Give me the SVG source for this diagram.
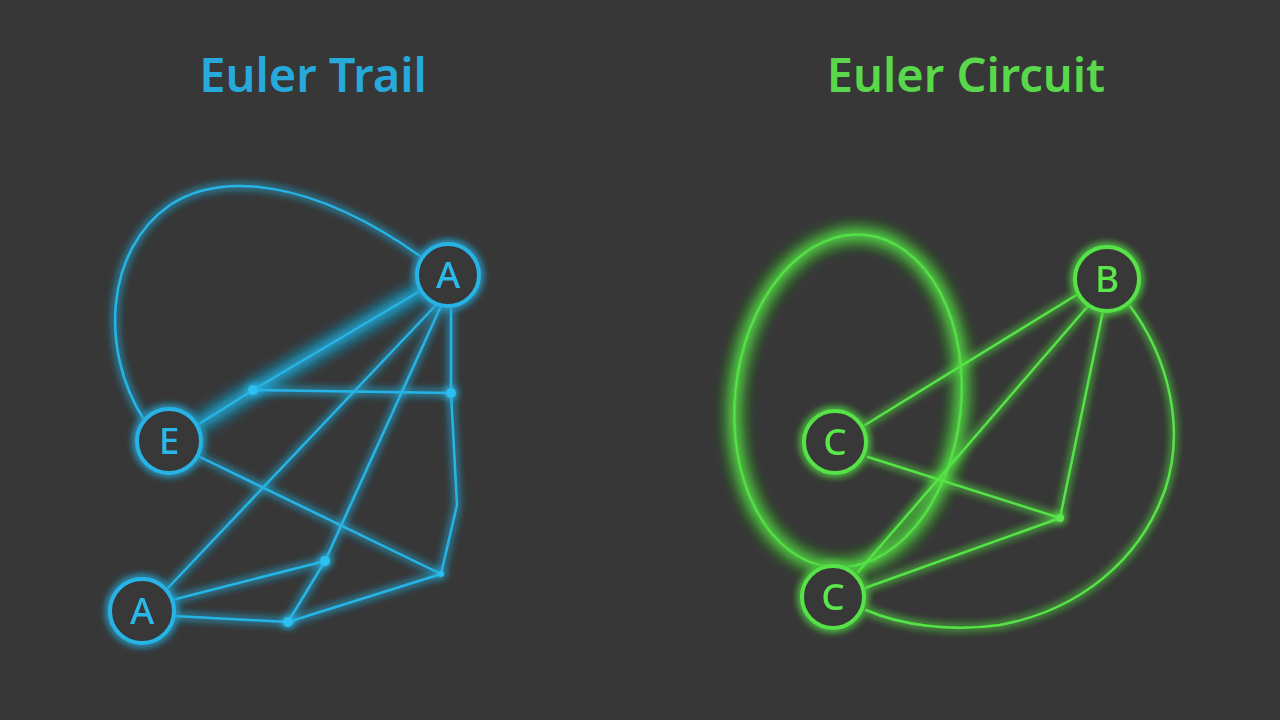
<svg xmlns="http://www.w3.org/2000/svg" width="1280" height="720" viewBox="0 0 1280 720">
<defs>
<filter id="glowB" x="-50%" y="-50%" width="200%" height="200%">
<feGaussianBlur in="SourceGraphic" stdDeviation="4" result="b"/>
<feMerge><feMergeNode in="b"/><feMergeNode in="b"/><feMergeNode in="SourceGraphic"/></feMerge>
</filter>
<filter id="glowBig" x="-50%" y="-50%" width="200%" height="200%">
<feGaussianBlur in="SourceGraphic" stdDeviation="8" result="b"/>
<feMerge><feMergeNode in="b"/><feMergeNode in="b"/><feMergeNode in="SourceGraphic"/></feMerge>
</filter>
<style>
.bl{stroke:#27b4e6;fill:none;stroke-width:2.5;stroke-linecap:round;stroke-linejoin:round}
.gr{stroke:#55e346;fill:none;stroke-width:2.5;stroke-linecap:round;stroke-linejoin:round}
.nb{fill:#373737;stroke:#27b4e6;stroke-width:4}
.ng{fill:#373737;stroke:#55e346;stroke-width:4}
.tb{fill:#2cb8ea;font-family:"Noto Sans","Open Sans",sans-serif;font-size:37px;text-anchor:middle;font-weight:500}
.tg{fill:#5ce84c;font-family:"Noto Sans","Open Sans",sans-serif;font-size:37px;text-anchor:middle;font-weight:500}
.title{font-family:"Noto Sans","Open Sans",sans-serif;font-size:47px;font-weight:600;text-anchor:middle}
.dotb{fill:#2cc0f0}
.dotg{fill:#5ce84c}
</style>
</defs>
<rect width="1280" height="720" fill="#373737"/>
<text class="title" x="313" y="92" fill="#27a9dc">Euler Trail</text>
<text class="title" x="966" y="92" fill="#58d84a">Euler Circuit</text>

<g id="connectors">
<g filter="url(#glowB)">
<path class="bl" d="M143,418 C100,350 105,250 170,205 C220,172 310,178 420,256" stroke-width="3"/>
<path class="bl" d="M420,291 L253,390 L199,424" stroke-width="4" filter="url(#glowBig)"/>
<path class="bl" d="M253,390 L451,393"/>
<path class="bl" d="M451,306 L451,393 L457,505 L441,574"/>
<path class="bl" d="M437,304 L166,590"/>
<path class="bl" d="M441,306 L325,561 L288,622"/>
<path class="bl" d="M172,600 L325,561"/>
<path class="bl" d="M174,616 L288,622 L441,574" stroke-width="3"/>
<path class="bl" d="M200,457 L441,574"/>
<circle class="dotb" cx="253" cy="390" r="5"/>
<circle class="dotb" cx="451" cy="393" r="5"/>
<circle class="dotb" cx="325" cy="561" r="5"/>
<circle class="dotb" cx="288" cy="622" r="5"/>
<circle class="dotb" cx="441" cy="574" r="3"/>
</g>
<g filter="url(#glowB)">
<ellipse class="gr" cx="848" cy="401" rx="113" ry="167" transform="rotate(6 848 401)" stroke="#62ee4e" stroke-width="7" filter="url(#glowBig)"/>
<path class="gr" d="M865,425 L1078,294"/>
<path class="gr" d="M1088,306 L858,572"/>
<path class="gr" d="M1103,311 L1060,518"/>
<path class="gr" d="M868,457 L1060,518 L865,588"/>
<path class="gr" d="M1130,306 C1170,360 1185,430 1165,490 C1140,560 1080,610 1000,625 C950,632 900,625 866,610" stroke-width="3"/>
<circle class="dotg" cx="1060" cy="518" r="4"/>
</g>
</g>

<g id="node-a-top" filter="url(#glowB)">
<circle class="nb" cx="448" cy="275" r="31"/>
<text class="tb" x="448" y="288">A</text>
</g>
<g id="node-e" filter="url(#glowB)">
<circle class="nb" cx="169" cy="441" r="32"/>
<text class="tb" x="169" y="454">E</text>
</g>
<g id="node-a-bottom" filter="url(#glowB)">
<circle class="nb" cx="142" cy="611" r="32"/>
<text class="tb" x="142" y="624">A</text>
</g>
<g id="node-b" filter="url(#glowB)">
<circle class="ng" cx="1107" cy="279" r="32"/>
<text class="tg" x="1107" y="292">B</text>
</g>
<g id="node-c-mid" filter="url(#glowB)">
<circle class="ng" cx="835" cy="442" r="31"/>
<text class="tg" x="835" y="455">C</text>
</g>
<g id="node-c-bottom" filter="url(#glowB)">
<circle class="ng" cx="833" cy="597" r="31"/>
<text class="tg" x="833" y="610">C</text>
</g>
</svg>
